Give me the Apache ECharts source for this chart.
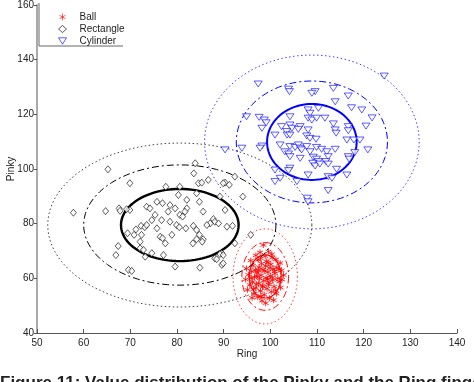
<!DOCTYPE html>
<html><head><meta charset="utf-8">
<script src="https://cdn.jsdelivr.net/npm/echarts@6/dist/echarts.min.js"></script>
<style>html,body{margin:0;padding:0;background:#fff}#c{width:474px;height:382px}</style>
</head><body><div id="c"></div>
<script>
const xTicks = [50,60,70,80,90,100,110,120,130,140];
const yTicks = [40,60,80,100,120,140,160];
const seriesNames = ['Ball','Rectangle','Cylinder'];

const ballPoints = [[98.5,72.2],[97.8,69.5],[99.6,69.8],[96.9,68.4],[98.9,68.1],[100.4,67.6],[101.2,66.9],[95.8,66.5],[97.4,66.8],[99.2,66.2],[98.1,65.4],[100.1,65.1],[102.1,65.6],[96.3,64.7],[97.6,64.1],[99.0,64.5],[101.4,64.0],[94.9,63.6],[98.4,63.2],[100.6,63.4],[102.4,62.9],[96.0,62.5],[97.2,62.0],[99.5,62.3],[101.0,61.8],[95.3,61.3],[98.0,61.1],[100.0,60.9],[102.8,61.2],[96.6,60.4],[97.7,59.9],[99.1,60.2],[101.6,60.0],[94.7,59.6],[98.6,59.1],[100.5,59.4],[96.2,58.7],[97.5,58.2],[99.7,58.5],[101.9,58.8],[95.6,57.6],[98.3,57.3],[100.8,57.0],[96.9,56.5],[99.3,56.2],[102.2,56.6],[95.1,55.8],[97.9,55.4],[100.2,55.1],[96.5,54.3],[98.7,54.0],[101.3,54.4],[97.3,53.1],[99.8,52.7],[98.2,51.8],[100.7,52.0],[96.1,52.9],[99.0,50.9],[97.0,57.8],[99.9,63.8],[98.8,62.7],[97.1,60.8],[100.9,62.5],[99.4,59.7],[98.4,56.9],[101.8,63.3],[96.8,63.0],[99.6,57.8],[97.9,67.3],[100.3,68.8],[95.9,60.1],[102.5,59.5],[96.4,56.0],[101.1,55.6],[98.0,53.5],[99.5,65.8],[97.5,62.9],[100.4,60.3]];

const rectanglePoints = [[83.9,102.1],[65.2,99.9],[83.6,98.4],[69.9,94.8],[84.6,94.8],[85.3,95.0],[86.7,96.0],[90.3,95.0],[91.2,94.2],[77.6,93.5],[80.6,93.5],[84.2,91.1],[80.3,90.5],[89.2,89.9],[82.1,88.7],[75.7,88.0],[76.9,87.5],[78.5,86.8],[79.6,85.6],[84.8,88.0],[73.5,86.2],[74.2,85.6],[82.1,85.6],[81.7,84.4],[57.8,84.0],[64.7,84.6],[67.6,85.6],[67.8,84.7],[69.9,85.0],[78.1,84.4],[85.6,84.4],[90.3,85.0],[75.3,83.2],[80.6,83.2],[81.2,82.6],[74.6,81.3],[76.7,81.3],[78.5,80.7],[87.8,81.7],[88.1,80.7],[87.1,80.1],[88.9,80.1],[72.3,79.2],[73.1,78.7],[73.5,79.5],[79.9,79.5],[80.5,78.7],[83.5,79.2],[86.4,79.5],[90.7,78.9],[91.9,79.2],[71.2,77.9],[75.7,78.3],[81.9,78.3],[84.2,77.7],[69.4,76.5],[70.8,75.9],[72.4,75.9],[76.4,75.2],[76.9,74.7],[78.9,75.9],[84.8,75.9],[84.2,74.3],[85.6,74.3],[72.1,73.4],[77.5,72.8],[83.4,72.8],[85.4,73.4],[92.4,72.8],[67.4,71.8],[72.1,71.0],[72.8,70.4],[74.6,69.2],[66.9,68.5],[77.1,68.5],[73.2,67.9],[89.6,69.2],[88.1,67.3],[79.6,64.3],[84.9,63.9],[89.6,64.9],[69.6,63.1],[70.3,62.7],[69.2,85.3],[88.5,67.0],[89.2,68.9],[89.9,68.5],[89.9,65.5],[95.8,75.9],[89.9,94.8],[92.4,97.2],[94.1,89.9]];

const cylinderPoints = [[97.4,131.1],[103.9,129.2],[104.1,128.3],[109.6,128.3],[108.9,127.7],[113.5,129.5],[116.7,126.7],[113.9,124.6],[117.4,122.4],[108.1,121.6],[110.3,122.2],[94.9,119.1],[97.6,118.9],[98.7,117.9],[99.1,116.9],[104.2,119.1],[108.5,120.4],[108.1,118.6],[108.9,117.9],[109.9,118.6],[111.7,118.6],[113.5,116.5],[98.2,114.9],[102.4,115.5],[104.2,116.1],[104.6,114.9],[106.4,115.5],[106.0,114.5],[108.1,114.3],[113.9,114.3],[114.1,113.1],[116.7,115.5],[116.7,114.0],[101.0,112.4],[103.5,113.7],[103.6,112.4],[104.2,112.4],[107.8,112.1],[108.5,111.2],[109.8,110.9],[116.4,110.6],[117.9,110.6],[93.9,107.6],[90.3,107.0],[98.2,108.4],[97.8,107.6],[102.1,108.8],[104.2,108.2],[105.3,107.9],[106.0,108.8],[106.4,107.6],[106.7,107.0],[107.8,108.2],[109.9,107.9],[111.0,107.2],[113.9,107.2],[103.1,106.3],[103.9,105.5],[104.2,104.5],[108.5,106.3],[112.1,106.3],[112.4,104.5],[118.1,106.0],[106.4,103.9],[109.2,104.3],[109.9,103.6],[110.3,102.7],[109.1,102.1],[109.6,101.1],[110.6,101.8],[111.9,102.7],[112.4,101.8],[116.7,104.5],[116.9,103.6],[101.0,99.6],[104.2,100.3],[103.9,99.4],[102.1,96.6],[101.0,95.4],[105.7,95.4],[108.1,97.8],[112.4,97.2],[113.2,96.6],[114.2,99.9],[116.4,97.8],[112.4,92.1],[107.9,89.3],[108.1,88.0],[119.6,121.6],[120.5,115.7],[121.8,118.7],[119.2,110.6],[120.9,107.0],[124.4,134.0]];

// ellipses: [centerX, centerY, radiusX, radiusY] for inner, middle, outer contours
const ballEllipses = [[98.9,60.7,3.4,7.9],[98.9,60.7,5.0,12.4],[98.9,60.7,6.9,17.4]];
const rectangleEllipses = [[80.6,79.5,12.6,13.2],[80.6,79.5,20.6,22.0],[80.6,79.5,28.3,30.0]];
const cylinderEllipses = [[108.9,109.9,9.6,13.9],[108.9,109.9,16.2,22.3],[108.9,109.9,23.0,31.8]];

const colors = {Ball:'#ff0000', Rectangle:'#000000', Cylinder:'#0000ff'};
const ringStyles = [
  {width:2, dash:'solid'},
  {width:1, dash:[7,3,2,3]},
  {width:1, dash:[1.5,2.5]}
];

function ellipseSeries(data, color, innerWidth) {
  return {
    type:'custom', silent:true, z:1,
    data: data,
    renderItem: function(params, api) {
      const c = api.coord([api.value(0), api.value(1)]);
      const s = api.size([api.value(2), api.value(3)]);
      const idx = params.dataIndex;
      const pts = [];
      for (let k = 0; k <= 96; k++) {
        const t = k / 96 * Math.PI * 2;
        pts.push([c[0] + s[0]*Math.cos(t), c[1] + s[1]*Math.sin(t)]);
      }
      const st = ringStyles[idx];
      return {
        type:'polyline',
        shape:{points:pts},
        style:{fill:'none', stroke:color, lineWidth: idx===0 ? innerWidth : st.width, lineDash: st.dash, opacity: idx===2 ? 0.75 : 1}
      };
    }
  };
}

const chart = echarts.init(document.getElementById('c'), null, {renderer:'canvas'});
const font = 'Liberation Sans, Arial, Helvetica, sans-serif';
chart.setOption({
  animation:false,
  backgroundColor:'#fff',
  grid:{left:37, right:17, top:5, bottom:49, containLabel:false, outerBoundsMode:'none'},
  xAxis:{
    type:'value', min:xTicks[0], max:xTicks[xTicks.length-1], interval:10,
    name:'Ring', nameLocation:'middle', nameGap:16, nameMoveOverlap:false,
    nameTextStyle:{fontFamily:font, fontSize:10, color:'#222'},
    axisLine:{show:true, onZero:false, lineStyle:{color:'#555', width:1}},
    axisTick:{show:true, inside:true, length:4, lineStyle:{color:'#555'}},
    axisLabel:{fontFamily:font, fontSize:10, color:'#222', margin:5},
    splitLine:{show:false}
  },
  yAxis:{
    type:'value', min:yTicks[0], max:yTicks[yTicks.length-1], interval:20,
    name:'Pinky', nameLocation:'middle', nameGap:21, nameMoveOverlap:false,
    nameTextStyle:{fontFamily:font, fontSize:10, color:'#222'},
    axisLine:{show:true, onZero:false, lineStyle:{color:'#aaa', width:2}},
    axisTick:{show:true, inside:false, length:3, lineStyle:{color:'#555'}},
    axisLabel:{fontFamily:font, fontSize:10, color:'#222', margin:3},
    splitLine:{show:false}
  },
  legend:{
    orient:'vertical', left:52, top:6, itemGap:0, itemWidth:8, itemHeight:7,
    itemStyle:{borderWidth:0.8},
    textStyle:{fontFamily:font, fontSize:10, lineHeight:12, color:'#222', padding:[0,0,0,8]},
    data:[
      {name:seriesNames[0]},
      {name:seriesNames[1]},
      {name:seriesNames[2], icon:'path://M0,0L10,0L5,8Z'}
    ]
  },
  graphic:[
    {type:'polyline', shape:{points:[[39,3],[39,46],[123,46]]}, style:{stroke:'#666', lineWidth:1, fill:'none'}},
    {type:'text', left:0, top:375, style:{text:'Figure 11: Value distribution of the Pinky and the Ring fingers', fontFamily:font, fontSize:17, fontWeight:'bold', fill:'#222'}}
  ],
  series:[
    ellipseSeries(ballEllipses, colors.Ball, 1.2),
    ellipseSeries(rectangleEllipses, colors.Rectangle, 2.4),
    ellipseSeries(cylinderEllipses, colors.Cylinder, 2),
    {name:'Ball', type:'scatter', z:3, data:ballPoints,
     symbol:'path://M0,-5L0,5M-4.3,-2.5L4.3,2.5M-4.3,2.5L4.3,-2.5', symbolSize:6,
     itemStyle:{color:'none', borderColor:'#ff0000', borderWidth:1}},
    {name:'Rectangle', type:'scatter', z:3, data:rectanglePoints,
     symbol:'diamond', symbolSize:[6,7],
     itemStyle:{color:'#fff', borderColor:'#000', borderWidth:0.8}},
    {name:'Cylinder', type:'scatter', z:3, data:cylinderPoints,
     symbol:'triangle', symbolRotate:180, symbolSize:[8,6],
     itemStyle:{color:'#fff', borderColor:'#0000ff', borderWidth:0.8}}
  ]
});
</script></body></html>
